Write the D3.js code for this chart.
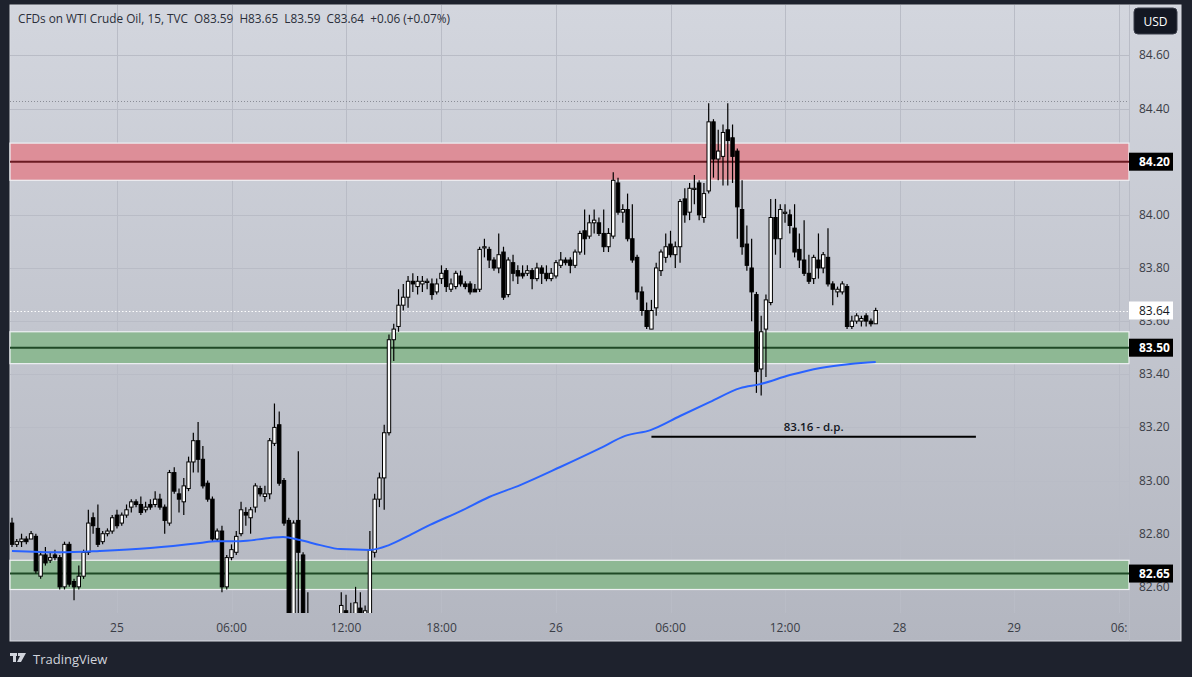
<!DOCTYPE html>
<html><head><meta charset="utf-8">
<script src="https://cdn.jsdelivr.net/npm/d3@7"></script>
<style>
html,body{margin:0;padding:0;background:#1e222d;}
svg{display:block;font-family:"Open Sans","Noto Sans",sans-serif;}
</style></head>
<body><svg id="c" width="1192" height="677"></svg>
<script>
// ---- data ----
const opens = [82.84,82.76,82.77,82.78,82.78,82.79,82.64,82.72,82.70,82.72,82.71,82.60,82.76,82.62,82.60,82.64,82.73,82.86,82.82,82.77,82.80,82.81,82.87,82.84,82.87,82.90,82.92,82.91,82.89,82.91,82.91,82.93,82.90,82.84,83.03,82.95,82.92,82.97,83.07,83.15,83.08,82.99,82.93,82.78,82.81,82.60,82.71,
82.73,82.80,82.88,82.86,82.90,82.97,82.94,82.95,83.14,83.21,83.00,82.85,82.45,82.85,82.72,82.45,82.38,82.34,82.36,82.33,82.37,82.40,82.47,82.51,82.48,82.47,82.52,82.47,82.49,82.73,82.93,83.01,83.18,83.53,83.58,83.66,83.69,83.75,83.73,83.74,83.75,83.74,83.71,83.76,83.79,83.72,
83.73,83.77,83.74,83.74,83.72,83.72,83.88,83.87,83.83,83.80,83.86,83.70,83.82,83.79,83.78,83.78,83.79,83.76,83.80,83.78,83.76,83.77,83.81,83.83,83.83,83.81,83.86,83.94,83.92,83.97,83.97,83.93,83.88,83.92,84.12,84.01,84.02,83.91,83.84,83.71,83.64,83.57,83.65,
83.79,83.84,83.89,83.85,83.88,84.06,84.01,84.10,84.12,83.99,84.09,84.35,84.21,84.22,84.32,84.29,84.24,84.02,83.89,83.80,83.70,83.42,83.57,83.67,83.99,83.91,84.01,84.00,83.95,83.87,83.83,83.78,83.76,83.83,83.80,83.84,83.74,83.71,83.71,83.73,83.58,83.60,83.60,83.62,83.60,83.59];
const highs = [82.86,82.78,82.80,82.79,82.81,82.80,82.73,82.75,82.73,82.74,82.72,82.77,82.77,82.63,82.68,82.74,82.89,82.88,82.91,82.81,82.82,82.87,82.89,82.88,82.91,82.93,82.93,82.94,82.92,82.93,82.96,82.95,82.91,83.04,83.05,82.97,83.01,83.09,83.18,83.22,83.13,83.00,82.94,82.82,82.83,82.72,82.76,
82.81,82.92,82.90,82.90,82.99,82.98,82.98,83.16,83.29,83.26,83.01,82.86,82.85,83.11,82.73,82.58,82.45,82.42,82.44,82.46,82.47,82.49,82.58,82.57,82.54,82.60,82.58,82.53,82.81,82.95,83.03,83.21,83.55,83.59,83.72,83.74,83.77,83.78,83.77,83.77,83.76,83.76,83.76,83.81,83.80,83.76,
83.79,83.79,83.75,83.75,83.74,83.88,83.91,83.88,83.84,83.93,83.88,83.84,83.85,83.81,83.81,83.81,83.80,83.82,83.81,83.81,83.80,83.83,83.86,83.84,83.84,83.87,83.94,84.02,84.00,84.02,83.99,84.02,83.95,84.16,84.14,84.04,84.08,84.04,83.85,83.73,83.67,83.68,83.82,
83.87,83.93,83.94,83.90,84.06,84.10,84.12,84.15,84.13,84.12,84.42,84.36,84.32,84.34,84.42,84.34,84.25,84.13,83.96,83.91,83.71,83.62,83.70,84.06,84.06,84.04,84.04,84.02,84.04,83.93,83.98,83.85,83.85,83.93,83.86,83.95,83.75,83.73,83.75,83.74,83.62,83.63,83.62,83.63,83.61,83.65];
const lows = [82.75,82.75,82.75,82.76,82.78,82.65,82.63,82.68,82.69,82.70,82.59,82.59,82.60,82.55,82.59,82.63,82.72,82.80,82.75,82.76,82.79,82.80,82.82,82.83,82.86,82.88,82.90,82.87,82.88,82.89,82.90,82.89,82.80,82.83,82.95,82.88,82.87,82.96,83.03,83.03,82.97,82.92,82.77,82.77,82.58,82.59,82.70,
82.72,82.79,82.83,82.80,82.88,82.94,82.92,82.93,83.13,82.98,82.83,82.40,82.40,82.45,82.35,82.30,82.30,82.31,82.30,82.31,82.35,82.38,82.47,82.45,82.46,82.45,82.44,82.45,82.47,82.71,82.90,82.89,83.17,83.45,83.56,83.64,83.65,83.71,83.70,83.71,83.72,83.68,83.70,83.74,83.71,83.71,
83.72,83.73,83.72,83.70,83.71,83.71,83.84,83.80,83.79,83.78,83.68,83.69,83.75,83.74,83.76,83.77,83.72,83.75,83.74,83.75,83.75,83.76,83.80,83.81,83.78,83.80,83.85,83.85,83.91,83.93,83.92,83.86,83.86,83.91,84.00,83.97,83.90,83.82,83.68,83.62,83.57,83.57,83.62,
83.77,83.82,83.84,83.80,83.82,83.97,83.98,84.04,83.98,83.97,84.08,84.14,84.13,84.11,84.11,84.12,83.91,83.85,83.79,83.60,83.33,83.32,83.39,83.66,83.85,83.80,83.97,83.93,83.84,83.80,83.77,83.74,83.74,83.76,83.78,83.73,83.66,83.69,83.70,83.57,83.57,83.59,83.58,83.58,83.58,83.59];
const closes = [82.76,82.77,82.78,82.77,82.80,82.66,82.72,82.69,82.71,82.71,82.60,82.76,82.61,82.60,82.64,82.73,82.84,82.83,82.76,82.80,82.81,82.86,82.83,82.87,82.89,82.92,82.91,82.88,82.90,82.90,82.93,82.90,82.85,83.03,82.96,82.93,82.98,83.07,83.15,83.08,82.98,82.93,82.78,82.81,82.60,82.71,82.74,
82.79,82.89,82.87,82.89,82.98,82.95,82.95,83.15,83.20,82.99,82.84,82.49,82.84,82.73,82.40,82.38,82.34,82.36,82.33,82.37,82.40,82.42,82.53,82.47,82.50,82.54,82.46,82.51,82.74,82.93,83.01,83.18,83.53,83.57,83.66,83.69,83.75,83.74,83.75,83.75,83.75,83.70,83.74,83.78,83.73,83.74,
83.78,83.74,83.73,83.71,83.71,83.87,83.88,83.83,83.80,83.85,83.69,83.83,83.78,83.77,83.77,83.79,83.76,83.80,83.78,83.76,83.78,83.82,83.83,83.82,83.81,83.86,83.93,83.91,83.97,83.98,83.93,83.88,83.93,84.13,84.01,84.02,83.91,83.83,83.71,83.64,83.58,83.64,83.80,
83.86,83.88,83.85,83.88,84.05,84.00,84.10,84.10,84.00,84.08,84.35,84.21,84.24,84.31,84.28,84.22,84.03,83.88,83.81,83.71,83.41,83.56,83.68,83.99,83.91,84.02,84.01,83.96,83.86,83.83,83.78,83.75,83.84,83.80,83.85,83.74,83.72,83.72,83.74,83.58,83.60,83.62,83.61,83.60,83.59,83.64];
const maIdx = [0,10,18.4,29,39.4,42.6,47.8,54,56.8,60.4,64.6,68.8,75,79,83.4,87.6,94,100,106.5,114.9,123.3,128.5,133.8,140,146.3,152.6,156.8,163,169.4,175.7,181];
const maVal = [82.735,82.73,82.735,82.746,82.765,82.772,82.772,82.784,82.788,82.776,82.757,82.742,82.739,82.757,82.795,82.833,82.885,82.938,82.983,83.051,83.122,83.168,83.19,83.243,83.296,83.348,83.363,83.397,83.424,83.439,83.446];
const priceTicks = [84.60,84.40,84.20,84.00,83.80,83.60,83.40,83.20,83.00,82.80,82.60];
const timeTickIdx = [22,46,70,90,114,138,162,186,210,232];
const timeTickLbl = ["25","06:00","12:00","18:00","26","06:00","12:00","28","29","06:"];
const zones = [{lo:84.13,hi:84.27,mid:84.20,kind:"red"},{lo:83.44,hi:83.56,mid:83.50,kind:"green"},{lo:82.59,hi:82.70,mid:82.65,kind:"green"}];
const lastPrice = 83.64, highLine = 84.43, dpLevel = 83.165, dpLabel = "83.16 - d.p.";
const dpRange = [134, 202];
const title = "CFDs on WTI Crude Oil, 15, TVC  O83.59  H83.65  L83.59  C83.64  +0.06 (+0.07%)";

// ---- layout ----
const svg = d3.select("#c");
const P = {l:10, t:5, r:1129, b:613, panelR:1181, panelB:641};
const x = d3.scaleLinear().domain([0,181]).range([12,875.7]);
const y = d3.scaleLinear().domain([84.20,83.50]).range([161.7,347.7]);

const defs = svg.append("defs");
const g = defs.append("linearGradient").attr("id","bg").attr("x1",0).attr("x2",0).attr("y1",0).attr("y2",1);
g.append("stop").attr("offset","0%").attr("stop-color","#d3d6de");
g.append("stop").attr("offset","100%").attr("stop-color","#b3b6c0");
defs.append("clipPath").attr("id","plot").append("rect").attr("x",P.l).attr("y",P.t).attr("width",P.r-P.l).attr("height",P.b-P.t);

svg.append("rect").attr("width",1192).attr("height",677).attr("fill","#1e222d");
svg.append("rect").attr("x",P.l).attr("y",P.t).attr("width",P.panelR-P.l).attr("height",P.panelB-P.t)
  .attr("fill","url(#bg)").attr("stroke","#d9dbe2").attr("stroke-width",1);

const grid = svg.append("g").attr("stroke","#b9bcc6").attr("stroke-width",1);
priceTicks.forEach(p=>grid.append("line").attr("x1",P.l).attr("x2",P.r).attr("y1",Math.round(y(p))+0.5).attr("y2",Math.round(y(p))+0.5));
timeTickIdx.forEach(i=>grid.append("line").attr("x1",Math.round(x(i))+0.5).attr("x2",Math.round(x(i))+0.5).attr("y1",P.t).attr("y2",P.b));
svg.append("line").attr("x1",P.r+0.5).attr("x2",P.r+0.5).attr("y1",P.t).attr("y2",P.panelB).attr("stroke","#b9bcc6");

zones.forEach(z=>{
  const fill = z.kind==="red" ? "#dd8e98" : "#8eb894";
  const line = z.kind==="red" ? "#6a1a22" : "#1f4a26";
  svg.append("rect").attr("x",P.l).attr("width",P.r-P.l).attr("y",y(z.hi)).attr("height",y(z.lo)-y(z.hi))
    .attr("fill",fill).attr("stroke","#eef0f3").attr("stroke-width",1.2);
  svg.append("line").attr("x1",P.l).attr("x2",P.r).attr("y1",y(z.mid)).attr("y2",y(z.mid)).attr("stroke",line).attr("stroke-width",2);
});

svg.append("line").attr("x1",P.l).attr("x2",P.r).attr("y1",Math.round(y(highLine))+0.5).attr("y2",Math.round(y(highLine))+0.5)
  .attr("stroke","#8a8d96").attr("stroke-dasharray","1,2");
svg.append("line").attr("x1",P.l).attr("x2",P.r).attr("y1",Math.round(y(lastPrice))+0.5).attr("y2",Math.round(y(lastPrice))+0.5)
  .attr("stroke","#ffffff").attr("stroke-dasharray","1.5,2");

const plot = svg.append("g").attr("clip-path","url(#plot)");
const bw = 3.4;
opens.forEach((o,i)=>{
  const c = closes[i], cx = x(i), up = c>=o;
  plot.append("line").attr("x1",cx).attr("x2",cx).attr("y1",y(highs[i])).attr("y2",y(lows[i])).attr("stroke","#000").attr("stroke-width",1.2);
  const top = y(Math.max(o,c)), h = Math.max(1.2, y(Math.min(o,c))-top);
  plot.append("rect").attr("x",cx-bw/2).attr("y",top).attr("width",bw).attr("height",h)
    .attr("fill",up?"#ffffff":"#000000").attr("stroke","#000").attr("stroke-width",1);
});

const ma = maIdx.map((d,i)=>[d,maVal[i]]);
plot.append("path").datum(ma).attr("fill","none").attr("stroke","#2962ff").attr("stroke-width",2)
  .attr("d",d3.line().x(d=>x(d[0])).y(d=>y(d[1])).curve(d3.curveMonotoneX));

svg.append("line").attr("x1",x(dpRange[0])).attr("x2",x(dpRange[1])).attr("y1",y(dpLevel)).attr("y2",y(dpLevel)).attr("stroke","#000").attr("stroke-width",2);
svg.append("text").attr("x",(x(dpRange[0])+x(dpRange[1]))/2).attr("y",y(dpLevel)-6).attr("text-anchor","middle")
  .attr("font-size",11.5).attr("font-weight",600).attr("fill","#131722").text(dpLabel);

// price axis (ticks hidden under a tag are skipped-overlapped like the original; draw tags on top)
priceTicks.forEach(p=>{
  svg.append("text").attr("x",1139).attr("y",y(p)+4).attr("font-size",12).attr("fill","#3a3d46").text(p.toFixed(2));
});
function tag(p,bg,fg,bold){
  const yy=y(p);
  svg.append("rect").attr("x",P.r).attr("y",yy-9).attr("width",44).attr("height",18).attr("fill",bg);
  svg.append("text").attr("x",1139).attr("y",yy+4.5).attr("font-size",12).attr("font-weight",bold?700:400).attr("fill",fg).text(p.toFixed(2));
}
tag(lastPrice,"#ffffff","#131722",false);
zones.forEach(z=>tag(z.mid,"#000000","#ffffff",true));

svg.append("rect").attr("x",1134).attr("y",8).attr("width",43).attr("height",26).attr("rx",4).attr("fill","#131722").attr("stroke","#3a3e4a");
svg.append("text").attr("x",1155.5).attr("y",26).attr("text-anchor","middle").attr("font-size",12).attr("fill","#ffffff").text("USD");

timeTickIdx.forEach((i,k)=>{
  svg.append("text").attr("x",x(i)).attr("y",632).attr("text-anchor","middle").attr("font-size",12).attr("fill","#3a3d46").text(timeTickLbl[k]);
});

svg.append("text").attr("x",18).attr("y",23).attr("font-size",11.8).attr("fill","#2a2e39").attr("textLength",432).attr("xml:space","preserve").text(title);

const lg = svg.append("g").attr("transform","translate(10,653)").attr("fill","#d1d4dc");
lg.append("rect").attr("x",0).attr("y",0).attr("width",7).attr("height",3);
lg.append("rect").attr("x",3).attr("y",0).attr("width",3).attr("height",9);
lg.append("path").attr("d","M8 0 H16 L11 9 H7 L10 3 H8 Z");
svg.append("text").attr("x",33).attr("y",664).attr("font-size",13).attr("fill","#d1d4dc").text("TradingView");
</script></body></html>
